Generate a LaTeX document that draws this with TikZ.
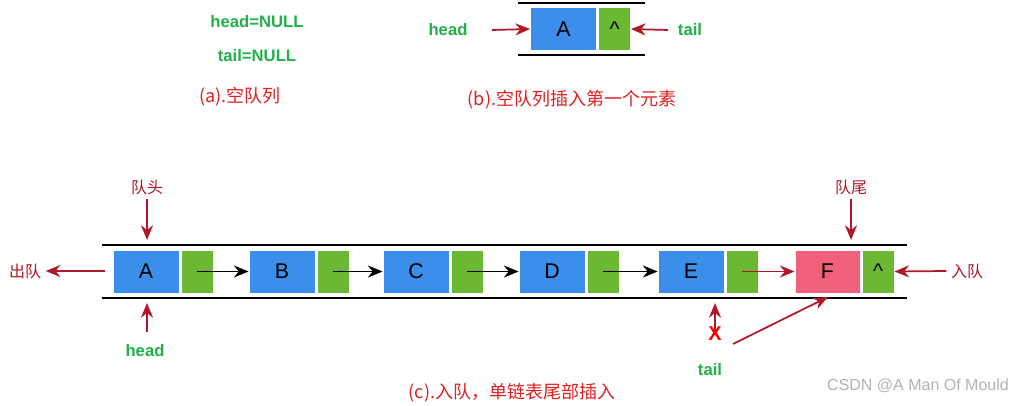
\documentclass[tikz,border=0pt]{standalone}
\usepackage{fontspec}
\setmainfont{Liberation Sans}
\newfontfamily\cjk{Noto Sans CJK SC}
\usetikzlibrary{arrows.meta}
\definecolor{qblue}{HTML}{3B8EEA}
\definecolor{qgreen}{HTML}{6BB833}
\definecolor{qpink}{HTML}{F0607A}
\definecolor{qred}{HTML}{B0182A}
\definecolor{lgreen}{HTML}{22B04A}
\definecolor{capred}{HTML}{E02020}
\begin{document}
\begin{tikzpicture}[x=0.75pt,y=-0.75pt,
 cell/.style={draw=white,line width=0.6pt,minimum height=32.25pt,inner sep=0,font=\fontsize{16}{16}\selectfont},
 bcell/.style={cell,fill=qblue,minimum width=49.5pt},
 gcell/.style={cell,fill=qgreen,minimum width=24pt},
 pcell/.style={cell,fill=qpink,minimum width=48.75pt},
 rarr/.style={draw=qred,line width=1.3pt,-{Stealth[length=11pt,width=9pt]}},
 barr/.style={draw=black,line width=1.3pt,-{Stealth[length=11pt,width=9pt]}},
 glab/.style={text=lgreen,font=\bfseries\fontsize{12.5}{12.5}\selectfont},
 rlab/.style={text=qred,font=\cjk\fontsize{12}{12}\selectfont},
 captext/.style={text=capred,font=\cjk\fontsize{13.5}{13.5}\selectfont}]
\useasboundingbox (0,0) rectangle (1031,406);
\fill[white] (0,0) rectangle (1031,406);
% (a)
\node[glab] (hn) at (257,22) {head=NULL};
\node[glab] (tn) at (257,56) {tail=NULL};
\node[captext] (capa) at (240,97) {(a).空队列};
% (b)
\draw[line width=1pt] (518,3) -- (645,3) (518,55) -- (645,55);
\node[bcell] (bA) at (563.5,29) {A};
\node[gcell] (bG) at (614.5,29) {\^{}};
\node[glab] (bh) at (448,30) {head};
\node[glab] (bt) at (690,30) {tail};
\coordinate (bhs) at (492,30); \coordinate (bts) at (668,30);
\draw[rarr] (bhs) -- (bA.west);
\draw[rarr] (bts) -- (bG.east);
\node[captext] (capb) at (572,100) {(b).空队列插入第一个元素};
% (c)
\draw[line width=1pt] (102,245) -- (907,245) (102,298) -- (907,298);
\foreach \n/\x in {A/146,B/282,C/416,D/552,E/691}{
  \node[bcell] (\n) at (\x,271.5) {\n};
  \node[gcell] (\n-g) at (\x+51,271.5) {};
}
\node[pcell] (F) at (827.5,271.5) {F};
\node[gcell] (F-g) at (878,271.5) {\^{}};
\foreach \a/\b in {A/B,B/C,C/D,D/E}{\draw[barr] (\a-g.center) -- (\b.west);}
\draw[rarr] (E-g.center) -- (F.west);
\node[rlab] (out) at (25,271) {出队};
\node[rlab] (in) at (967,271) {入队};
\coordinate (outs) at (105,271);
\draw[rarr] (outs) -- (out.east);
\draw[rarr] (in.west) -- (F-g.east);
\node[rlab] (qh) at (147,187) {队头};
\node[rlab] (qt) at (851,187) {队尾};
\coordinate (qhe) at (147,240); \coordinate (qte) at (851,240);
\draw[rarr] (qh.south) -- (qhe);
\draw[rarr] (qt.south) -- (qte);
\node[glab] (h) at (145,351) {head};
\coordinate (hs) at (147,332); \coordinate (he) at (147,303);
\draw[rarr] (hs) -- (he);
\node[glab] (t) at (710,370) {tail};
\coordinate (ts) at (715,335); \coordinate (te) at (715,303);
\coordinate (tc) at (733,344); \coordinate (tf) at (828,297);
\draw[rarr] (ts) -- (te);
\node[text=red,font=\bfseries\fontsize{15}{15}\selectfont] (x) at (715,334) {X};
\draw[rarr] (tc) -- (tf);
\node[captext] (capc) at (512,393) {(c).入队，单链表尾部插入};
\node[text=gray!60,font=\fontsize{12}{12}\selectfont] (wm) at (918,386) {CSDN @A Man Of Mould};
\end{tikzpicture}
\end{document}
